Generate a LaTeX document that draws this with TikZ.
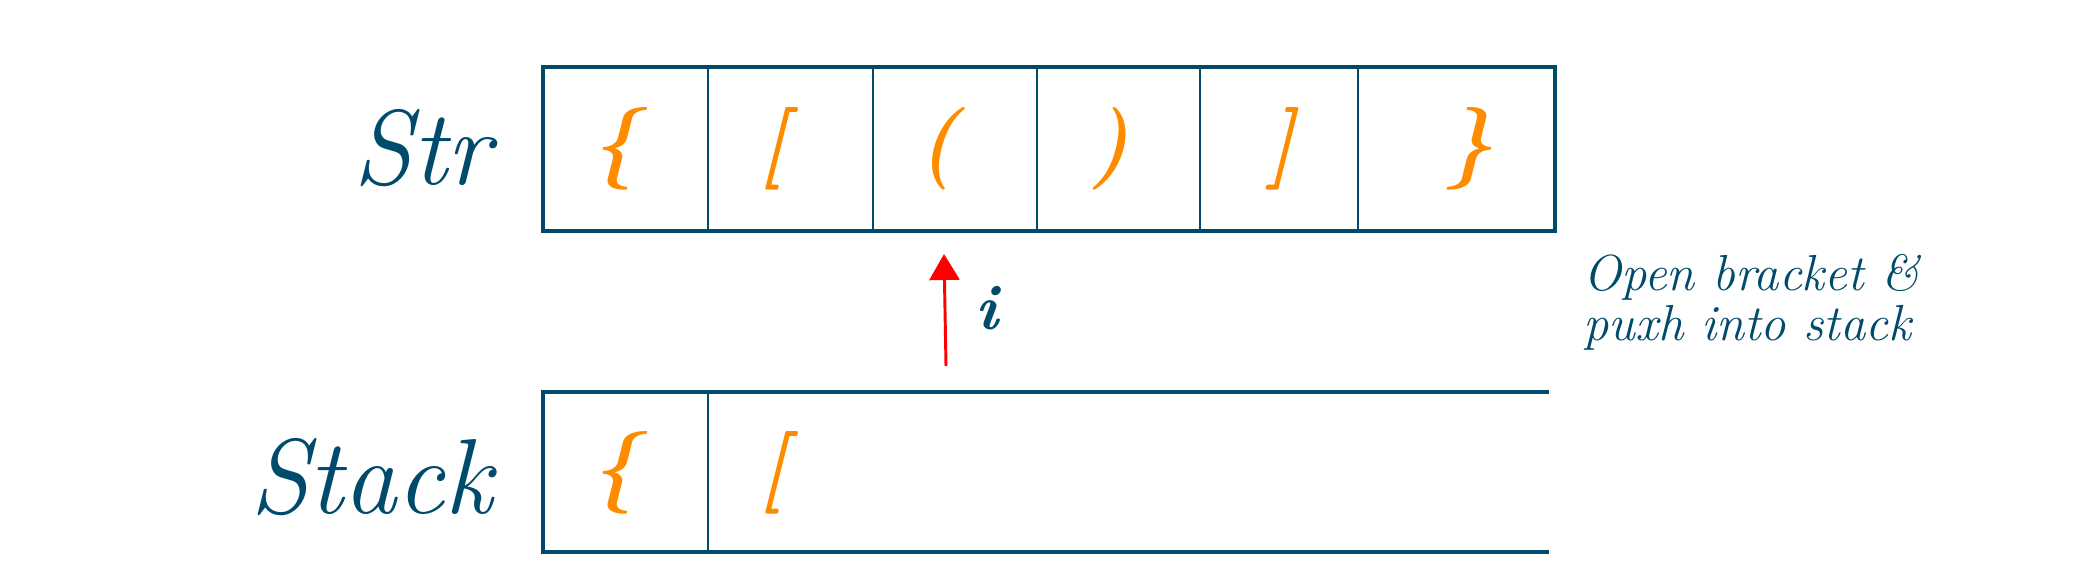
\documentclass[tikz,border=0pt]{standalone}
\usepackage{fontspec}
\usepackage{tikz}
\usetikzlibrary{arrows.meta}

\definecolor{inkblue}{RGB}{0,74,107}
\definecolor{bracketorange}{RGB}{255,140,0}
\definecolor{pointerred}{RGB}{255,0,0}

\tikzset{
  frame/.style={draw=inkblue, line width=3.4pt, line join=miter},
  divider/.style={draw=inkblue, line width=1pt},
  rowname/.style={anchor=base east, inner sep=0.75pt, text=inkblue, font=\fontsize{80}{82}\selectfont\itshape},
  bracket/.style={anchor=center, inner sep=0.75pt, text=bracketorange, font=\fontsize{62}{64}\selectfont\bfseries\itshape},
  note/.style={anchor=base west, inner sep=0.75pt, text=inkblue, align=left, font=\fontsize{38}{37}\selectfont\itshape}
}

\begin{document}
\begin{tikzpicture}[x=0.75pt,y=0.75pt,yscale=-1,xscale=1]
\useasboundingbox (0,0) rectangle (2100,586);

%Shape: Rectangle [Str]
\draw [frame] (543,67) rectangle (1555,231) ;
%Straight Lines [Str dividers]
\draw [divider] (708,67) -- (708,231) ;
\draw [divider] (873,67) -- (873,231) ;
\draw [divider] (1037,67) -- (1037,231) ;
\draw [divider] (1200,67) -- (1200,231) ;
\draw [divider] (1358,67) -- (1358,231) ;

%Straight Lines [Stack, open on the right]
\draw [frame] (1549,392) -- (543,392) -- (543,552) -- (1549,552) ;
%Straight Lines [Stack divider]
\draw [divider] (708,392) -- (708,552) ;

% Text Node
\node [rowname] (strname) at (492,184) {Str};
% Text Node
\node [rowname] (stackname) at (494,513) {Stack};

% Text Node
\node [bracket] (str1) at (615,149) {\{};
% Text Node
\node [bracket] (str2) at (773,149) {[};
% Text Node
\node [bracket] (str3) at (938,149) {(};
% Text Node
\node [bracket] (str4) at (1110,149) {)};
% Text Node
\node [bracket] (str5) at (1281,149) {]};
% Text Node
\node [bracket] (str6) at (1469,149) {\}};

% Text Node
\node [bracket] (stack1) at (615,473) {\{};
% Text Node
\node [bracket] (stack2) at (773,473) {[};

%Straight Lines [pointer i]
\coordinate (ptrtail) at (946,366) ;
\coordinate (ptrtip) at (944,254) ;
\draw [draw=pointerred, line width=2.2pt, -{Triangle[width=22.5pt,length=19.5pt]}] (ptrtail) -- (ptrtip) ;
% Text Node
\node [anchor=base, inner sep=0.75pt, text=inkblue, font=\fontsize{48}{50}\selectfont\bfseries\itshape] (ptrname) at (987,329) {i};

% Text Node (base anchor sits on the last line)
\node [note] (note) at (1582,340) {Open bracket \&\\puxh into stack};

\end{tikzpicture}
\end{document}
